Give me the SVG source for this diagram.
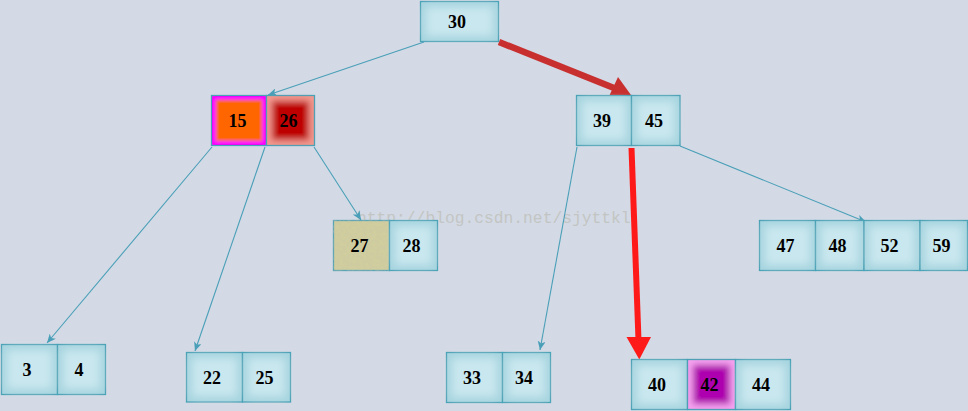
<svg xmlns="http://www.w3.org/2000/svg" width="968" height="411" viewBox="0 0 968 411">
<style>
.cell{fill:#a5d4df;stroke:#4aa2b6;stroke-width:1.3;filter:url(#bBlue)}
.c15{fill:#ff00ff;stroke:#4aa2b6;stroke-width:1.3;filter:url(#b15)}
.c26{fill:#f39a90;stroke:#4aa2b6;stroke-width:1.3;filter:url(#b26)}
.c42{fill:#f6a2f0;stroke:#4aa2b6;stroke-width:1.3;filter:url(#b42)}
.c27{fill:#d1ce9e;stroke:#4aa2b6;stroke-width:1.3;filter:url(#tex)}
.t{font-family:"Liberation Serif","DejaVu Serif",serif;font-weight:bold;font-size:18px;fill:#000;text-anchor:middle}
.edge{fill:none;stroke:#4a9fb8;stroke-width:1.1}
.wm{font-family:"Liberation Mono","DejaVu Sans Mono",monospace;font-size:16.3px;fill:#c3c5c3}
</style>
<defs>
<filter id="bBlue" x="-0.05" y="-0.05" width="1.1" height="1.1">
<feMorphology in="SourceAlpha" operator="erode" radius="6" result="e"/>
<feGaussianBlur in="e" stdDeviation="4.5" result="b"/>
<feFlood flood-color="#c9e7ee"/>
<feComposite in2="b" operator="in" result="inner"/>
<feMerge><feMergeNode in="SourceGraphic"/><feMergeNode in="inner"/></feMerge>
</filter>
<filter id="b15" x="-0.05" y="-0.05" width="1.1" height="1.1">
<feMorphology in="SourceAlpha" operator="erode" radius="5" result="e"/>
<feGaussianBlur in="e" stdDeviation="1.6" result="b"/>
<feFlood flood-color="#ff6600"/>
<feComposite in2="b" operator="in" result="inner"/>
<feMerge><feMergeNode in="SourceGraphic"/><feMergeNode in="inner"/></feMerge>
</filter>
<filter id="b26" x="-0.05" y="-0.05" width="1.1" height="1.1">
<feMorphology in="SourceAlpha" operator="erode" radius="6" result="e"/>
<feGaussianBlur in="e" stdDeviation="3" result="b"/>
<feFlood flood-color="#bf0000"/>
<feComposite in2="b" operator="in" result="inner"/>
<feMerge><feMergeNode in="SourceGraphic"/><feMergeNode in="inner"/></feMerge>
</filter>
<filter id="b42" x="-0.05" y="-0.05" width="1.1" height="1.1">
<feMorphology in="SourceAlpha" operator="erode" radius="6" result="e"/>
<feGaussianBlur in="e" stdDeviation="3" result="b"/>
<feFlood flood-color="#ae00ae"/>
<feComposite in2="b" operator="in" result="inner"/>
<feMerge><feMergeNode in="SourceGraphic"/><feMergeNode in="inner"/></feMerge>
</filter>
<filter id="tex" x="-0.05" y="-0.05" width="1.1" height="1.1">
<feTurbulence type="fractalNoise" baseFrequency="0.3" numOctaves="2" seed="3" result="n"/>
<feColorMatrix in="n" type="matrix" values="0 0 0 0 0.55  0 0 0 0 0.55  0 0 0 0 0.4  0 0 0 0.5 -0.1" result="nc"/>
<feComposite in="nc" in2="SourceAlpha" operator="in" result="nt"/>
<feMerge><feMergeNode in="SourceGraphic"/><feMergeNode in="nt"/></feMerge>
</filter>
<marker id="ah" markerUnits="userSpaceOnUse" markerWidth="10" markerHeight="8" refX="9" refY="4" orient="auto">
<path d="M0,0 L9,4 L0,8 L2.5,4 Z" fill="#4a9fb8"/>
</marker>
</defs>
<rect x="0" y="0" width="968" height="411" fill="#d3dae5"/>
<text class="wm" x="357" y="223">http://blog.csdn.net/sjyttkl</text>
<g id="connectors">
<path class="edge" d="M424,42 L268,95" marker-end="url(#ah)"/>
<path class="edge" d="M212,147 L47,343" marker-end="url(#ah)"/>
<path class="edge" d="M265,147 L195,351" marker-end="url(#ah)"/>
<path class="edge" d="M314,147 L361,220" marker-end="url(#ah)"/>
<path class="edge" d="M577,147 L540,350" marker-end="url(#ah)"/>
<path class="edge" d="M680,146 L866,222" marker-end="url(#ah)"/>
<g id="red1">
<path d="M499,42 L614,88" stroke="#c83030" stroke-width="6.5" fill="none"/>
<polygon points="631,95 618,77 608,98.5" fill="#c83030"/>
</g>
<g id="red2">
<path d="M631.5,148 L638.5,340" stroke="#ff1a1a" stroke-width="6" fill="none"/>
<polygon points="626.5,337 651,337 639.3,359.5" fill="#ff1a1a"/>
</g>
</g>
<g id="n30">
<rect class="cell" x="420.5" y="1.5" width="78" height="40"/>
<text class="t" x="457" y="28">30</text>
</g>
<g id="n15_26">
<rect class="c15" x="211.5" y="95.5" width="55" height="50"/>
<rect class="c26" x="266.5" y="95.5" width="48" height="50"/>
<text class="t" x="237.5" y="127">15</text>
<text class="t" x="288.5" y="127">26</text>
</g>
<g id="n39_45">
<rect class="cell" x="576.5" y="95.5" width="55" height="50"/>
<rect class="cell" x="631.5" y="95.5" width="48.5" height="50"/>
<text class="t" x="602" y="127">39</text>
<text class="t" x="654" y="127">45</text>
</g>
<g id="n3_4">
<rect class="cell" x="1.5" y="344.5" width="56" height="50"/>
<rect class="cell" x="57.5" y="344.5" width="48" height="50"/>
<text class="t" x="27" y="376">3</text>
<text class="t" x="79" y="376">4</text>
</g>
<g id="n22_25">
<rect class="cell" x="186.5" y="352.5" width="56" height="49.5"/>
<rect class="cell" x="242.5" y="352.5" width="48" height="49.5"/>
<text class="t" x="212" y="384">22</text>
<text class="t" x="264.5" y="384">25</text>
</g>
<g id="n27_28">
<rect class="c27" x="333.5" y="220.5" width="56" height="50"/>
<rect class="cell" x="389.5" y="220.5" width="48" height="50"/>
<text class="t" x="359.5" y="252">27</text>
<text class="t" x="411.5" y="252">28</text>
</g>
<g id="n33_34">
<rect class="cell" x="446.5" y="352.5" width="56" height="50"/>
<rect class="cell" x="502.5" y="352.5" width="48" height="50"/>
<text class="t" x="472" y="384">33</text>
<text class="t" x="524" y="384">34</text>
</g>
<g id="n40_42_44">
<rect class="cell" x="631.5" y="359.5" width="56" height="50"/>
<rect class="c42" x="687.5" y="359.5" width="48" height="50"/>
<rect class="cell" x="735.5" y="359.5" width="55" height="50"/>
<text class="t" x="657" y="391">40</text>
<text class="t" x="709.5" y="391">42</text>
<text class="t" x="761" y="391">44</text>
</g>
<g id="n47_59">
<rect class="cell" x="759.5" y="220.5" width="56" height="50"/>
<rect class="cell" x="815.5" y="220.5" width="48.5" height="50"/>
<rect class="cell" x="864" y="220.5" width="56" height="50"/>
<rect class="cell" x="920" y="220.5" width="47.5" height="50"/>
<text class="t" x="785.5" y="252">47</text>
<text class="t" x="837.5" y="252">48</text>
<text class="t" x="889.5" y="252">52</text>
<text class="t" x="941.5" y="252">59</text>
</g>
</svg>
